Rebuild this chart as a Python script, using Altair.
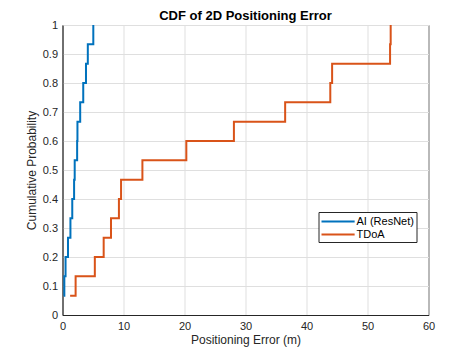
import altair as alt
import pandas as pd

# Sorted positioning errors (m)
ai_errors = [0.2, 0.3, 0.5, 0.9, 1.3, 1.6, 1.9, 2.0, 2.4, 2.45, 2.9, 3.4, 3.85, 4.15, 5.05]
tdoa_errors = [1.25, 2.15, 5.3, 6.75, 7.95, 9.25, 9.6, 13.1, 20.3, 28.1, 36.5, 43.9, 44.2, 53.7, 53.8]
series_names = ["AI (ResNet)", "TDoA"]
series_colors = ["#0072BD", "#D95319"]
x_ticks = [0, 10, 20, 30, 40, 50, 60]
y_ticks = [0, 0.1, 0.2, 0.3, 0.4, 0.5, 0.6, 0.7, 0.8, 0.9, 1]

rows = []
for name, errs in zip(series_names, [ai_errors, tdoa_errors]):
    s = sorted(errs)
    n = len(s)
    for i, e in enumerate(s):
        rows.append({"series": name, "error": e, "cdf": (i + 1) / n, "order": i})
df = pd.DataFrame(rows)

FONT = "Liberation Sans"
TXT = "#262626"

chart = (
    alt.Chart(df)
    .mark_line(interpolate="step-after", strokeWidth=2)
    .encode(
        x=alt.X(
            "error:Q",
            scale=alt.Scale(domain=[0, 60], nice=False, zero=False),
            axis=alt.Axis(
                values=x_ticks,
                title="Positioning Error (m)",
                format="d",
                ticks=False,
                labelFlush=False,
                labelPadding=5,
                titlePadding=3,
            ),
        ),
        y=alt.Y(
            "cdf:Q",
            scale=alt.Scale(domain=[0, 1], nice=False),
            axis=alt.Axis(
                values=y_ticks,
                title="Cumulative Probability",
                format="~g",
                ticks=False,
                labelFlush=False,
                labelPadding=5,
                titlePadding=4,
            ),
        ),
        color=alt.Color(
            "series:N",
            scale=alt.Scale(domain=series_names, range=series_colors),
            legend=alt.Legend(
                title=None,
                orient="none",
                legendX=256,
                legendY=187,
                symbolType="M-1,0H4.1",
                symbolSize=169,
                symbolStrokeWidth=2,
                strokeColor=TXT,
                fillColor="white",
                padding=2,
                rowPadding=0,
                labelFontSize=11,
                labelFont=FONT,
                labelColor="#000000",
                labelOffset=21,
            ),
        ),
        order="order:Q",
    )
    .properties(
        width=366,
        height=290,
        title=alt.TitleParams(
            "CDF of 2D Positioning Error",
            font=FONT,
            fontSize=13,
            fontWeight="bold",
            color="#000000",
            offset=-4,
        ),
        autosize=alt.AutoSizeParams(type="none"),
        padding={"left": 54.5, "top": 17, "right": 37.5, "bottom": 32},
    )
    .configure_view(stroke=TXT, strokeWidth=1)
    .configure_axis(
        domainColor=TXT,
        gridColor="#dfdfdf",
        labelFont=FONT,
        labelFontSize=11,
        labelColor=TXT,
        titleFont=FONT,
        titleFontSize=12,
        titleFontWeight="normal",
        titleColor=TXT,
    )
)

chart.save("out.html", embed_options={"renderer": "svg", "actions": False})
